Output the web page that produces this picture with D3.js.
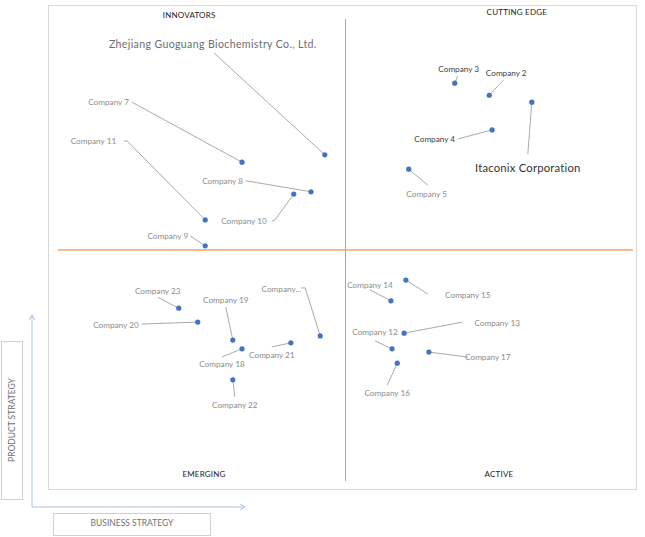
<!DOCTYPE html>
<html><head><meta charset="utf-8">
<script src="https://cdn.jsdelivr.net/npm/d3@7"></script>
<style>body{margin:0;background:#fff}svg{display:block}text{font-family:Lato,"Open Sans",sans-serif}</style>
</head><body><svg id="c" width="645" height="537"></svg>
<script>
// Data
const companies = ["Zhejiang Guoguang Biochemistry Co., Ltd.","Company 7","Company 11","Company 8","Company 10","Company 9",
  "Company 3","Company 2","Itaconix Corporation","Company 4","Company 5",
  "Company 23","Company 20","Company 19","Company 18","Company 21","Company...","Company 22",
  "Company 15","Company 14","Company 13","Company 12","Company 17","Company 16"];
const businessStrategy = [4.64,3.20,2.56,4.40,4.10,2.56, 6.90,7.50,8.24,7.55,6.10, 2.10,2.43,3.04,3.20,4.05,4.56,3.04, 6.05,5.79,6.02,5.81,6.45,5.90];
const productStrategy  = [7.06,6.90,5.65,6.26,6.21,5.09, 8.61,8.35,8.20,7.60,6.75, 3.74,3.44,3.05,2.86,2.99,3.14,2.19, 4.35,3.90,3.20,2.86,2.79,2.55];
const quadrantNames = ["INNOVATORS","CUTTING EDGE","EMERGING","ACTIVE"];
const axisTitles = ["BUSINESS STRATEGY","PRODUCT STRATEGY"];

// Layout (label placement relative to point: [labelX, labelY, anchor, leaderStartX, leaderStartY, elbowX?, elbowY?, size, color, letterSpacing])
const labelLayout = [
  [-112,-110,"middle",-111,-102,null,null,10.6,"#6e6e6e",0.35],
  [-113,-60,"end",-110,-60,null,null,8.2,"#8c8c8c",0],
  [-89,-79,"end",-81,-79,-78,-79,8.2,"#8c8c8c",0],
  [-68,-11,"end",-65,-11,null,null,8.2,"#8c8c8c",0],
  [-27,27,"end",-22,27,-19,26,8.2,"#8c8c8c",0],
  [-17,-10,"end",-15,-10,null,null,8.2,"#8c8c8c",0],
  [4,-14,"middle",3,-7,null,null,8.2,"#404040",0],
  [17,-22,"middle",14,-15,null,null,8.2,"#404040",0],
  [-4,67,"middle",-4,52,null,null,11.3,"#333333",0.2],
  [-37,9,"end",-34,9,null,null,8.2,"#404040",0],
  [18,25,"middle",19,16,null,null,8.2,"#8c8c8c",0],
  [-21,-17,"middle",-21,-11,null,null,8.2,"#8c8c8c",0],
  [-59,3,"end",-56,2,null,null,8.2,"#8c8c8c",0],
  [-7,-40,"middle",-7,-33,null,null,8.2,"#8c8c8c",0],
  [-20,15,"middle",-20,8,null,null,8.2,"#8c8c8c",0],
  [-19,12,"middle",-19,4,null,null,8.2,"#8c8c8c",0],
  [-19,-47,"end",-19,-48,-15,-48,8.2,"#8c8c8c",0],
  [2,25,"middle",2,17,null,null,8.2,"#8c8c8c",0],
  [62,15,"middle",22,14,null,null,8.2,"#8c8c8c",0],
  [-21,-16,"middle",-21,-11,null,null,8.2,"#8c8c8c",0],
  [93,-10,"middle",58,-11,null,null,8.2,"#8c8c8c",0],
  [-17,-17,"middle",-17,-8,null,null,8.2,"#8c8c8c",0],
  [59,5,"middle",39,5,null,null,8.2,"#8c8c8c",0],
  [-10,30,"middle",-10,22,null,null,8.2,"#8c8c8c",0]
];

const svg = d3.select("#c");
const x = d3.scaleLinear().domain([0,10]).range([58,633]);
const y = d3.scaleLinear().domain([0,10]).range([481,19]);

// frame
svg.append("rect").attr("x",48.5).attr("y",5.5).attr("width",588).attr("height",484)
  .attr("fill","none").attr("stroke","#d9d9d9");
// dividers
svg.append("line").attr("x1",x(5)).attr("x2",x(5)).attr("y1",y(10)).attr("y2",y(0))
  .attr("stroke","#a6a6a6").attr("stroke-width",1);
svg.append("line").attr("x1",x(0)).attr("x2",x(10)).attr("y1",y(5)).attr("y2",y(5))
  .attr("stroke","#f4a464").attr("stroke-width",1.5);

// quadrant labels
const qpos = [[x(2.28),18],[x(7.98),15],[x(2.54),477],[x(7.67),477]];
quadrantNames.forEach((q,i)=>{
  svg.append("text").attr("x",qpos[i][0]).attr("y",qpos[i][1]).attr("text-anchor","middle")
    .attr("font-size",8).attr("fill","#222").attr("letter-spacing",0.2).text(q);
});

// axis arrows
const ax = svg.append("g").attr("stroke","#aec3ec").attr("fill","none").attr("stroke-width",1);
ax.append("line").attr("x1",32).attr("y1",507).attr("x2",32).attr("y2",315);
ax.append("path").attr("d","M29,320 L32,315 L35,320");
ax.append("line").attr("x1",32).attr("y1",507).attr("x2",245).attr("y2",507);
ax.append("path").attr("d","M240,504 L245,507 L240,510");

// axis title boxes
svg.append("rect").attr("x",1.5).attr("y",341.5).attr("width",21).attr("height",158).attr("fill","none").attr("stroke","#d0d0d0");
svg.append("text").attr("transform","translate(15,420) rotate(-90)").attr("text-anchor","middle")
  .attr("font-size",8.5).attr("fill","#707070").text(axisTitles[1]);
svg.append("rect").attr("x",53.5).attr("y",513.5).attr("width",157).attr("height",22).attr("fill","none").attr("stroke","#d0d0d0");
svg.append("text").attr("x",132).attr("y",526).attr("text-anchor","middle")
  .attr("font-size",8.5).attr("fill","#707070").text(axisTitles[0]);

// leaders, labels, points
const g = svg.append("g");
companies.forEach((c,i)=>{
  const px = x(businessStrategy[i]), py = y(productStrategy[i]);
  const L = labelLayout[i];
  let d = `M${px+L[3]},${py+L[4]}`;
  if (L[5]!==null) d += ` L${px+L[5]},${py+L[6]}`;
  d += ` L${px},${py}`;
  g.append("path").attr("d",d).attr("fill","none").attr("stroke","#a0a0a0").attr("stroke-width",0.9);
  g.append("text").attr("x",px+L[0]).attr("y",py+L[1]+3).attr("text-anchor",L[2])
    .attr("font-size",L[7]).attr("fill",L[8]).attr("letter-spacing",L[9]).text(c);
});
g.selectAll("circle.pt").data(companies).join("circle").attr("class","pt")
  .attr("cx",(d,i)=>x(businessStrategy[i])).attr("cy",(d,i)=>y(productStrategy[i]))
  .attr("r",2.6).attr("fill","#4472c4");
</script></body></html>
